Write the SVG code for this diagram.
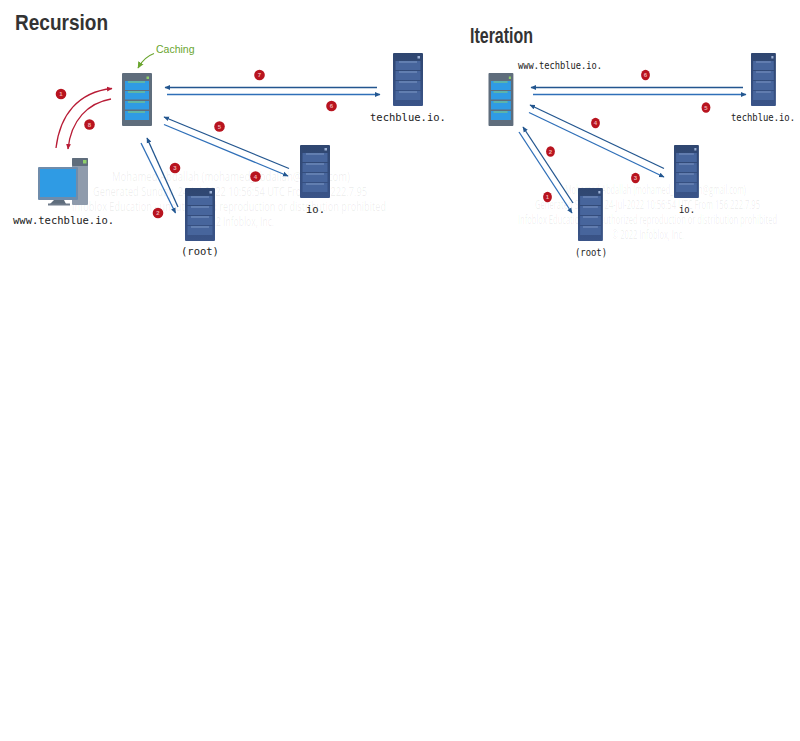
<svg xmlns="http://www.w3.org/2000/svg" width="800" height="741" viewBox="0 0 800 741">
<style>
text{font-family:"Liberation Sans",Arial,sans-serif}
.h{font-size:21.500px;font-weight:700;fill:#333}
.m{font-family:"DejaVu Sans Mono","Liberation Mono",monospace;font-size:10.500px;fill:#222}
.w{font-family:"Open Sans","Liberation Sans",sans-serif;font-size:12px;fill:#000;fill-opacity:.075}
.n{font-size:6px;font-weight:700;fill:#f0b0b0;text-anchor:middle}
.b{fill:none;stroke:#2f6fb8;stroke-width:1.300}
.d{fill:none;stroke:#23568f;stroke-width:1.300}
.r{fill:none;stroke:#b81c36;stroke-width:1.300}
.bad{fill:#b8141f}
</style>
<defs>
<marker id="ab" markerUnits="userSpaceOnUse" markerWidth="6" markerHeight="6" refX="5" refY="3" orient="auto"><path d="M0 .6L5.500 3L0 5.400z" fill="#23568f"/></marker>
<marker id="ar" markerUnits="userSpaceOnUse" markerWidth="6" markerHeight="6" refX="5" refY="3" orient="auto"><path d="M0 .6L5.500 3L0 5.400z" fill="#b81c36"/></marker>
<marker id="ag" markerUnits="userSpaceOnUse" markerWidth="7" markerHeight="7" refX="6" refY="3.500" orient="auto"><path d="M0 .5L6.500 3.500L0 6.500z" fill="#6aa52f"/></marker>
<linearGradient id="sg" x1="0" y1="0" x2="0" y2="1"><stop offset="0" stop-color="#2f4670"/><stop offset="1" stop-color="#3a5488"/></linearGradient>
<g id="srv">
<rect x="0" y="0" width="30" height="53" rx="1" fill="url(#sg)"/>
<rect x="2.500" y="8" width="25" height="9" fill="#47659c"/>
<rect x="2.500" y="18" width="25" height="9" fill="#47659c"/>
<rect x="2.500" y="28" width="25" height="9" fill="#47659c"/>
<rect x="2.500" y="38" width="25" height="9" fill="#47659c"/>
<path d="M6 9H24M6 19H24M6 29H24M6 39H24" stroke="#8ea6cf" stroke-width=".8"/>
<rect x="24.500" y="3" width="2.500" height="2.500" fill="#9db2d6"/>
</g>
<g id="res">
<rect x="0" y="0" width="30" height="53" rx="1" fill="#5f6d7c"/>
<rect x="3" y="8" width="24" height="9" fill="#2f9be4"/>
<rect x="3" y="18" width="24" height="8.500" fill="#2f9be4"/>
<rect x="3" y="28" width="24" height="8.500" fill="#2f9be4"/>
<rect x="3" y="38" width="24" height="9" fill="#2f9be4"/>
<path d="M6 9H23M6 19H23M6 29H23M6 39H23" stroke="#8fd06a" stroke-width="1"/>
<rect x="24.500" y="3.500" width="2.500" height="2.500" fill="#8fd06a"/>
</g>
</defs>

<g id="watermark-left">
<text class="w" x="112" y="181" textLength="238" lengthAdjust="spacingAndGlyphs">Mohamed Abdallah (mohamed_abdallah@gmail.com)</text>
<text class="w" x="93" y="196" textLength="274" lengthAdjust="spacingAndGlyphs">Generated Sunday, 24-Jul-2022 10:56:54 UTC From 156.222.7.95</text>
<text class="w" x="72" y="211" textLength="314" lengthAdjust="spacingAndGlyphs">Infoblox Education - unauthorized reproduction or distribution prohibited</text>
<text class="w" x="192" y="226" textLength="82" lengthAdjust="spacingAndGlyphs">© 2022 Infoblox, Inc.</text>
</g>
<g id="watermark-right">
<text class="w" x="565" y="194" textLength="181" lengthAdjust="spacingAndGlyphs">Mohamed Abdallah (mohamed_abdallah@gmail.com)</text>
<text class="w" x="535" y="209" textLength="225" lengthAdjust="spacingAndGlyphs">Generated Sunday, 24-Jul-2022 10:56:54 UTC From 156.222.7.95</text>
<text class="w" x="518" y="224" textLength="259" lengthAdjust="spacingAndGlyphs">Infoblox Education - unauthorized reproduction or distribution prohibited</text>
<text class="w" x="612" y="239" textLength="72" lengthAdjust="spacingAndGlyphs">© 2022 Infoblox, Inc.</text>
</g>

<text class="h" x="15" y="30" textLength="93" lengthAdjust="spacingAndGlyphs">Recursion</text>
<text class="h" x="470" y="43" textLength="63" lengthAdjust="spacingAndGlyphs">Iteration</text>
<text x="156" y="53" font-size="10.500" fill="#6aa52f">Caching</text>

<g id="resolver-left"><use href="#res" x="122" y="73"/></g>
<g id="client">
<rect x="72" y="158" width="16" height="47" rx="1" fill="#8f9bac"/>
<rect x="72" y="158" width="16" height="8" rx="1" fill="#5f6d7c"/>
<rect x="83" y="160" width="3.500" height="3.500" fill="#8fd06a"/>
<rect x="38" y="167" width="40" height="33" rx="1" fill="#6f8cab"/>
<rect x="40" y="169" width="36" height="28" fill="#2f9be4"/>
<path d="M54 200H64L66 204H50Z" fill="#5f6d7c"/>
<rect x="48" y="203.500" width="22" height="2" fill="#6f7b8a"/>
<text class="m" x="13" y="224">www.techblue.io.</text>
</g>
<g id="root-left"><use href="#srv" x="185" y="188"/><text class="m" x="181" y="255">(root)</text></g>
<g id="io-left"><use href="#srv" x="300" y="145"/><text class="m" x="306" y="213">io.</text></g>
<g id="tb-left"><use href="#srv" x="393" y="53"/><text class="m" x="370" y="121">techblue.io.</text></g>

<g id="resolver-right"><use href="#res" transform="translate(488.500 73) scale(.83 1)"/><text class="m" x="518" y="69" textLength="84" lengthAdjust="spacingAndGlyphs">www.techblue.io.</text></g>
<g id="root-right"><use href="#srv" transform="translate(578 188) scale(.83 1)"/><text class="m" x="575" y="256" textLength="32" lengthAdjust="spacingAndGlyphs">(root)</text></g>
<g id="io-right"><use href="#srv" transform="translate(674 145) scale(.83 1)"/><text class="m" x="679" y="213" textLength="16" lengthAdjust="spacingAndGlyphs">io.</text></g>
<g id="tb-right"><use href="#srv" transform="translate(751 53) scale(.83 1)"/><text class="m" x="731" y="121" textLength="64" lengthAdjust="spacingAndGlyphs">techblue.io.</text></g>

<g id="connectors">
<path class="r" d="M56 148C60 115 78 92 112 88.500" marker-end="url(#ar)"/>
<path class="r" d="M111 99C88 103 71 120 68 149" marker-end="url(#ar)"/>
<path d="M154 53.500Q144 57 138 68" fill="none" stroke="#6aa52f" stroke-width="1.200" marker-end="url(#ag)"/>
<path class="b" d="M141 143L175.500 213" marker-end="url(#ab)"/>
<path class="d" d="M178 207L147 138" marker-end="url(#ab)"/>
<path class="b" d="M167 94.500H380" marker-end="url(#ab)"/>
<path class="d" d="M377 87.500H165" marker-end="url(#ab)"/>
<path class="d" d="M289 168.500L164 117" marker-end="url(#ab)"/>
<path class="b" d="M164 124.500L288 176" marker-end="url(#ab)"/>
<path class="b" d="M519 132L572 213" marker-end="url(#ab)"/>
<path class="d" d="M573 203L523 127" marker-end="url(#ab)"/>
<path class="b" d="M533 94.500H746" marker-end="url(#ab)"/>
<path class="d" d="M743 87.500H531" marker-end="url(#ab)"/>
<path class="d" d="M664 168.500L530 105" marker-end="url(#ab)"/>
<path class="b" d="M529 112.500L664 177" marker-end="url(#ab)"/>
</g>

<g id="badges">
<circle class="bad" cx="61" cy="94" r="5.300"/><text class="n" x="61" y="96">1</text>
<circle class="bad" cx="89.500" cy="124.500" r="5.300"/><text class="n" x="89.500" y="126.500">8</text>
<circle class="bad" cx="158" cy="213" r="5.300"/><text class="n" x="158" y="215">2</text>
<circle class="bad" cx="175" cy="168" r="5.300"/><text class="n" x="175" y="170">3</text>
<circle class="bad" cx="255.500" cy="176.500" r="5.300"/><text class="n" x="255.500" y="178.500">4</text>
<circle class="bad" cx="219.500" cy="126.500" r="5.300"/><text class="n" x="219.500" y="128.500">5</text>
<circle class="bad" cx="331.500" cy="106" r="5.300"/><text class="n" x="331.500" y="108">6</text>
<circle class="bad" cx="259.500" cy="75" r="5.300"/><text class="n" x="259.500" y="77">7</text>
<ellipse class="bad" cx="547.500" cy="197" rx="4.400" ry="5.300"/><text class="n" x="547.500" y="199">1</text>
<ellipse class="bad" cx="550.500" cy="151.500" rx="4.400" ry="5.300"/><text class="n" x="550.500" y="153.500">2</text>
<ellipse class="bad" cx="635.500" cy="178" rx="4.400" ry="5.300"/><text class="n" x="635.500" y="180">3</text>
<ellipse class="bad" cx="595.500" cy="123" rx="4.400" ry="5.300"/><text class="n" x="595.500" y="125">4</text>
<ellipse class="bad" cx="706" cy="107.500" rx="4.400" ry="5.300"/><text class="n" x="706" y="109.500">5</text>
<ellipse class="bad" cx="645.500" cy="75" rx="4.400" ry="5.300"/><text class="n" x="645.500" y="77">6</text>
</g>
</svg>
